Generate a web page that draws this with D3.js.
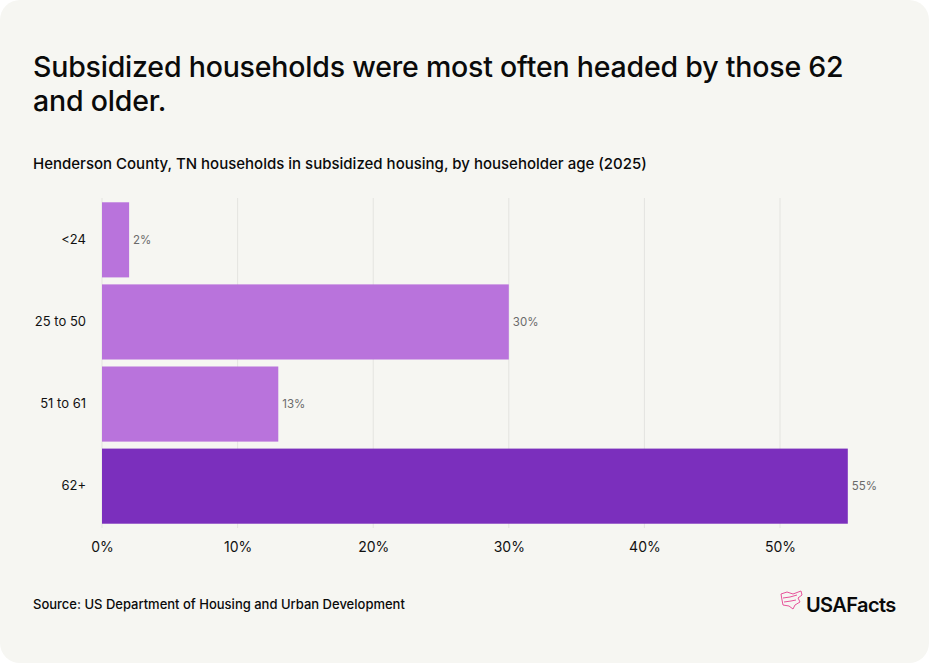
<!DOCTYPE html>
<html>
<head>
<meta charset="utf-8">
<script src="https://cdn.jsdelivr.net/npm/d3@7"></script>
<style>
  body { margin: 0; background: #ffffff; font-family: Inter, "Noto Sans", sans-serif; }
</style>
</head>
<body>
<div id="chart"></div>
<script>
let width = 929,
    height = 663

// data
let ages = ["<24", "25 to 50", "51 to 61", "62+"]
let shares = [2, 30, 13, 55]
let barColors = ["#b973dc", "#b973dc", "#b973dc", "#7b2fbd"]
let tickValues = [0, 10, 20, 30, 40, 50]

let svg = d3.select("#chart").append("svg")
    .attr("width", width)
    .attr("height", height)
    .style("font-family", "Inter, 'Noto Sans', sans-serif")

// card
svg.append("rect")
    .attr("x", 0).attr("y", 0)
    .attr("width", width).attr("height", height)
    .attr("rx", 20)
    .attr("fill", "#f6f6f2")

// title
let title = svg.append("text")
    .attr("x", 33)
    .attr("y", 77)
    .attr("font-size", 28.5)
    .attr("font-weight", 500)
    .attr("fill", "#0a0a0a")
    .style("letter-spacing", "-0.2px")
title.append("tspan").attr("x", 33).text("Subsidized households were most often headed by those 62")
title.append("tspan").attr("x", 33).attr("dy", 34).text("and older.")

svg.append("text")
    .attr("x", 33)
    .attr("y", 169)
    .attr("font-size", 15)
    .attr("font-weight", 500)
    .attr("fill", "#0a0a0a")
    .text("Henderson County, TN households in subsidized housing, by householder age (2025)")

let x = d3.scaleLinear()
    .domain([0, 50])
    .range([102, 780])

let y = d3.scaleBand()
    .domain(ages)
    .range([199, 527])
    .paddingInner(0.085)
    .paddingOuter(0.04)

// grid
svg.append("g")
    .selectAll("line")
    .data(tickValues)
    .enter()
    .append("line")
    .attr("x1", d => x(d))
    .attr("x2", d => x(d))
    .attr("y1", 198)
    .attr("y2", 528)
    .attr("stroke", "#e4e4e0")
    .attr("stroke-width", 1)

// bars
svg.append("g")
    .selectAll("rect")
    .data(ages)
    .enter()
    .append("rect")
    .attr("x", x(0))
    .attr("y", d => y(d))
    .attr("width", (d, i) => x(shares[i]) - x(0))
    .attr("height", y.bandwidth())
    .attr("fill", (d, i) => barColors[i])

// value labels
svg.append("g")
    .selectAll("text")
    .data(ages)
    .enter()
    .append("text")
    .attr("x", (d, i) => x(shares[i]) + 4)
    .attr("y", d => y(d) + y.bandwidth() / 2)
    .attr("dy", "0.35em")
    .attr("font-size", 11.5)
    .attr("fill", "#6a6a6a")
    .text((d, i) => shares[i] + "%")

// category axis
let yAxis = svg.append("g")
    .attr("transform", "translate(86,0)")
    .call(d3.axisLeft(y).tickSize(0).tickPadding(0))
yAxis.select(".domain").remove()
yAxis.selectAll("text")
    .attr("font-size", 13)
    .attr("font-family", "Inter, 'Noto Sans', sans-serif")
    .attr("fill", "#111")

// value axis
let xAxis = svg.append("g")
    .attr("transform", "translate(0,538)")
    .call(d3.axisBottom(x).tickValues(tickValues).tickFormat(d => d + "%").tickSize(0).tickPadding(4))
xAxis.select(".domain").remove()
xAxis.selectAll("text")
    .attr("font-size", 14)
    .attr("font-family", "Inter, 'Noto Sans', sans-serif")
    .attr("fill", "#111")

// source
svg.append("text")
    .attr("x", 33)
    .attr("y", 609)
    .attr("font-size", 13)
    .attr("font-weight", 500)
    .attr("fill", "#0a0a0a")
    .text("Source: US Department of Housing and Urban Development")

// logo
let logo = svg.append("g").attr("transform", "translate(781,597)")
logo.append("path")
    .attr("d", "M0 -3 L6 -5 L12 -3 L20 -6 L21 -2 L17 1 L19 5 L14 8 L12 12 L8 9 L2 8 L1 3 Z")
    .attr("fill", "none")
    .attr("stroke", "#e7539a")
    .attr("stroke-width", 1)
logo.append("path")
    .attr("d", "M2 1 L9 0 L16 -2 M3 5 L10 4 L15 3")
    .attr("fill", "none")
    .attr("stroke", "#e7539a")
    .attr("stroke-width", 1)
svg.append("text")
    .attr("x", 806)
    .attr("y", 612)
    .attr("font-size", 20)
    .attr("font-weight", 600)
    .attr("fill", "#0a0a0a")
    .style("letter-spacing", "-0.6px")
    .text("USAFacts")
</script>
</body>
</html>
